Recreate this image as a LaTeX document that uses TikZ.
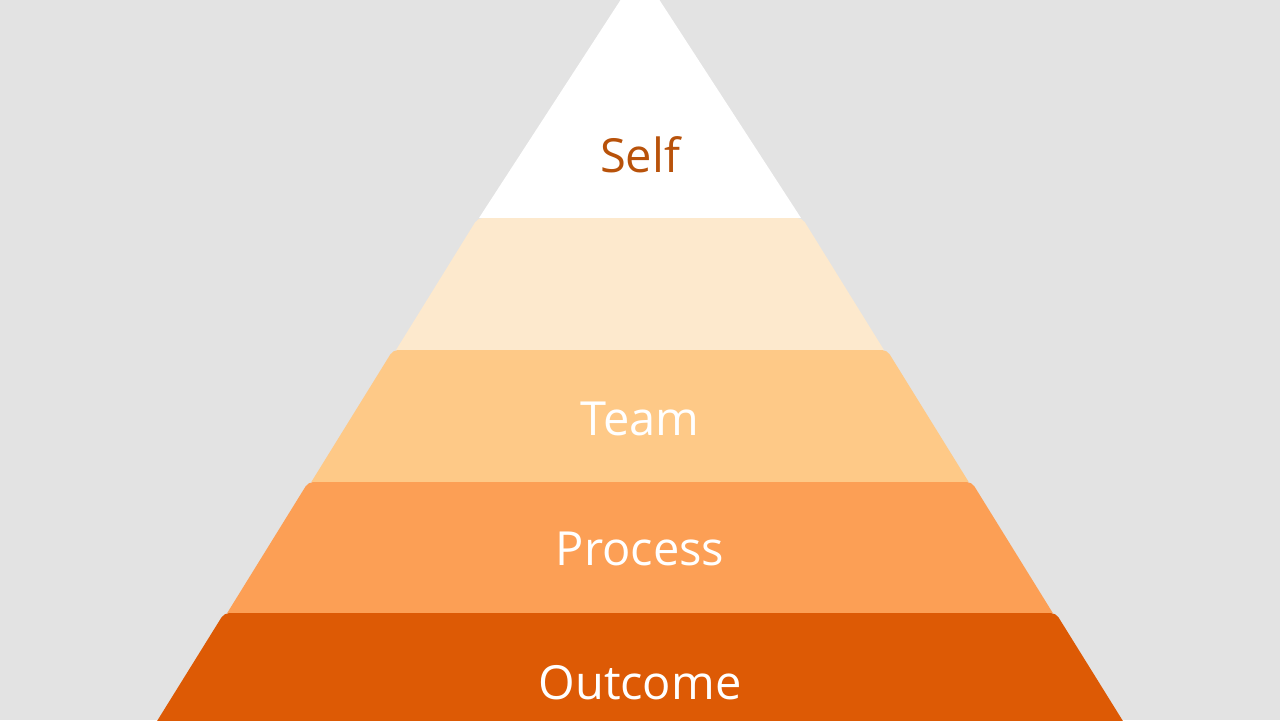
\documentclass[tikz,border=0pt]{standalone}
\usepackage{fontspec}
\setmainfont{Open Sans}
\usepackage{tikz}
\definecolor{bggrey}{HTML}{E3E3E3}
\definecolor{cream}{HTML}{FDE9CD}
\definecolor{lightorange}{HTML}{FEC987}
\definecolor{midorange}{HTML}{FC9F55}
\definecolor{darkorange}{HTML}{DD5A05}
\definecolor{selftext}{HTML}{B8520A}
\tikzset{
  layerlabel/.style={anchor=base,inner sep=0,font=\fontsize{23.5}{28}\selectfont,text=white}
}
\begin{document}
\begin{tikzpicture}[x=0.5pt,y=-0.5pt]
\useasboundingbox (0,0) rectangle (1280,720);
\fill[bggrey] (0,0) rectangle (1280,720); %background
\clip (0,0) rectangle (1280,720);

\coordinate (apex) at (640,-30); %tip of the pyramid
\fill[white] (apex) -- (479,218) -- (801,218) -- cycle; %top layer

%layers from top to bottom, each one overlapping the one above
\foreach \t/\b/\c in {218/350/cream,350/482/lightorange,482/613/midorange,613/760/darkorange}{
  \pgfmathsetmacro{\wt}{(\t+30)*0.642+3}
  \pgfmathsetmacro{\wb}{(\b+30)*0.642}
  \fill[\c] (640-\wb,\b) [rounded corners=2.5pt] -- (640-\wt,\t) -- (640+\wt,\t) [sharp corners] -- (640+\wb,\b) -- cycle;
}

\node[layerlabel,text=selftext] (self) at (640,172) {Self}; %Self label
\node[layerlabel] (team) at (640,435) {Team}; %Team label
\node[layerlabel] (process) at (640,565) {Process}; %Process label
\node[layerlabel] (outcome) at (640,699) {Outcome}; %Outcome label
\end{tikzpicture}
\end{document}
